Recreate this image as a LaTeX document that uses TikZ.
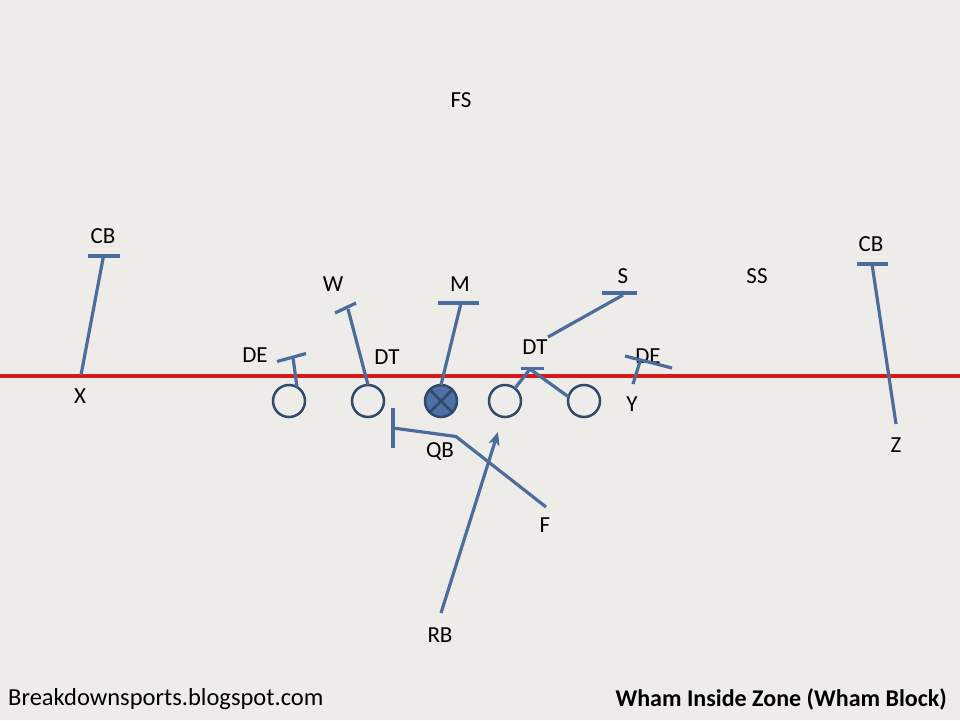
\documentclass[tikz,border=0pt]{standalone}
\usepackage{fontspec}
\setmainfont{Carlito}
\usetikzlibrary{arrows.meta}
\definecolor{bg}{HTML}{EEECE9}
\definecolor{route}{HTML}{4B6D9C}
\definecolor{ring}{HTML}{2F4A6B}
\definecolor{fillc}{HTML}{4E70A6}
\definecolor{los}{HTML}{D41A1A}
\tikzset{
  lbl/.style={inner sep=0pt, font=\fontsize{23}{23}\selectfont, text=black},
  player/.style={circle, draw=ring, line width=2.5pt, minimum size=32pt, inner sep=0pt, outer sep=0pt},
  rt/.style={draw=route, line width=3.2pt},
  foot/.style={inner sep=0pt, font=\fontsize{24.5}{24.5}\selectfont, text=black}
}
\begin{document}
\begin{tikzpicture}[x=1pt,y=-1pt]
\fill[bg] (0,0) rectangle (960,720);
\useasboundingbox (0,0) rectangle (960,720);
% line of scrimmage
\coordinate (losL) at (0,376);
\coordinate (losR) at (960,376);
\draw[los, line width=3.4pt] (losL) -- (losR);
% offensive line
\node[player] (c1) at (289,401) {};
\node[player] (c2) at (368,401) {};
\node[player, fill=fillc] (c3) at (441,401) {};
\node[player] (c4) at (505,401) {};
\node[player] (c5) at (584,401) {};
\draw[ring, line width=2.5pt] (c3.45) -- (c3.225) (c3.135) -- (c3.315);
% labels
\node[lbl] (fs) at (461,100) {FS};
\node[lbl] (cbl) at (103,236) {CB};
\node[lbl] (cbr) at (871,244) {CB};
\node[lbl] (w) at (333,284) {W};
\node[lbl] (m) at (460,284) {M};
\node[lbl] (s) at (623,276) {S};
\node[lbl] (ss) at (757,276) {SS};
\node[lbl] (del) at (255,355) {DE};
\node[lbl] (dtl) at (387,357) {DT};
\node[lbl] (dtr) at (535,347) {DT};
\node[lbl] (der) at (648,356) {DE};
\node[lbl] (xl) at (80,396) {X};
\node[lbl] (yl) at (632,404) {Y};
\node[lbl] (zl) at (896,445) {Z};
\node[lbl] (qb) at (440,452) {QB};
\node[lbl] (f) at (545,525) {F};
\node[lbl] (rb) at (440,635) {RB};
% left CB / X
\coordinate (cblA) at (88,256); \coordinate (cblB) at (120,256); \coordinate (cblM) at (103.5,256);
\coordinate (xs) at (81,375);
\draw[rt] (cblA) -- (cblB);
\draw[rt] (cblM) -- (xs);
% right CB / Z
\coordinate (cbrA) at (857,264); \coordinate (cbrB) at (888,264); \coordinate (cbrM) at (872,264);
\coordinate (zs) at (896,424);
\draw[rt] (cbrA) -- (cbrB);
\draw[rt] (cbrM) -- (zs);
% left DE block
\coordinate (deA) at (277,361.5); \coordinate (deB) at (306,353.5); \coordinate (deM) at (293,357.5);
\draw[rt] (deA) -- (deB);
\draw[rt] (deM) -- (c1.60);
% W block
\coordinate (wA) at (335,313); \coordinate (wB) at (356,303); \coordinate (wM) at (348,309);
\draw[rt] (wA) -- (wB);
\draw[rt] (wM) -- (c2.north);
% M block
\coordinate (mA) at (438,303); \coordinate (mB) at (479,303); \coordinate (mM) at (461,303);
\draw[rt] (mA) -- (mB);
\draw[rt] (mM) -- (c3.north);
% right DT double team
\coordinate (dtA) at (521,368.5); \coordinate (dtB) at (544,368.5); \coordinate (dtM) at (530,369);
\draw[rt] (dtA) -- (dtB);
\draw[rt] (dtM) -- (c4.52);
\draw[rt] (dtM) -- (c5.165);
% S block (climb from DT)
\coordinate (sA) at (602,293); \coordinate (sB) at (637,293); \coordinate (sM) at (623,295);
\coordinate (sStart) at (548,337);
\draw[rt] (sA) -- (sB);
\draw[rt] (sStart) -- (sM);
% right DE / Y
\coordinate (derA) at (625,356); \coordinate (derB) at (672,368); \coordinate (derM) at (640,361.5);
\coordinate (ys) at (633,384);
\draw[rt] (derA) -- (derB);
\draw[rt] (derM) -- (ys);
% QB
\coordinate (qbA) at (393,408); \coordinate (qbB) at (393,448); \coordinate (qbM) at (393,428);
\coordinate (qbK) at (456,436.5); \coordinate (fs0) at (546,507);
\draw[rt] (qbA) -- (qbB);
\draw[rt, line join=round] (fs0) -- (qbK) -- (qbM);
% RB arrow
\coordinate (rbS) at (441,613);
\coordinate (rbT) at (498,432);
\draw[rt, -{Stealth[length=13pt,width=11pt,inset=3pt]}] (rbS) -- (rbT);
% footer
\node[foot, anchor=west] (site) at (8,699) {Breakdownsports.blogspot.com};
\node[foot, anchor=east, font=\fontsize{24}{24}\selectfont\bfseries] (title) at (947,699) {Wham Inside Zone (Wham Block)};
\end{tikzpicture}
\end{document}
